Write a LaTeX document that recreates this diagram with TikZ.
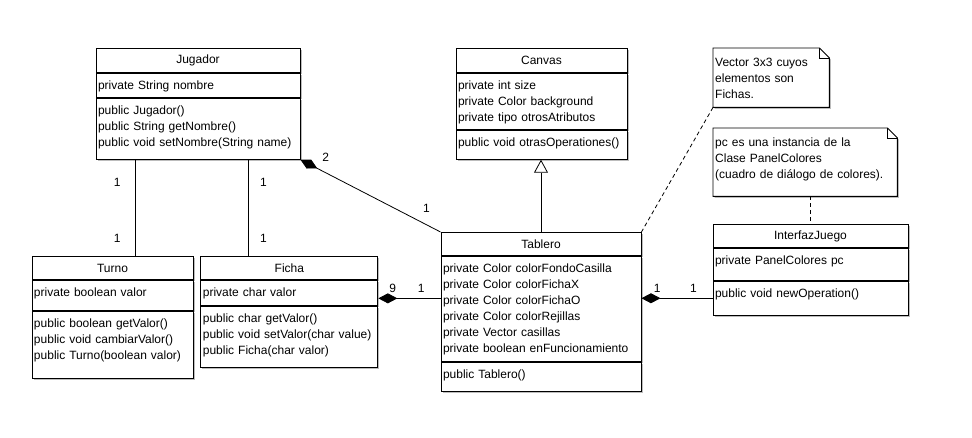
\documentclass[tikz,border=0pt]{standalone}
\usepackage{fontspec}
\setmainfont{Liberation Sans}
\usepackage{tikz}
\usetikzlibrary{arrows.meta,shapes,positioning,shadows,backgrounds}
\definecolor{umlline}{RGB}{0,0,0}
\definecolor{umlshadow}{RGB}{160,160,160}
\tikzstyle{umltext} = [font=\fontsize{12}{16}\selectfont]
\tikzstyle{umlshade} = [drop shadow={shadow xshift=1.5pt, shadow yshift=-1.5pt, fill=umlshadow, opacity=0.7}]
\tikzstyle{classhead} = [umltext, rectangle, draw=umlline, fill=white, line width=0.9pt, anchor=north, inner sep=0pt, umlshade]
\tikzstyle{classpart} = [umltext, rectangle, draw=umlline, fill=white, line width=0.9pt, align=left, inner xsep=2pt, inner ysep=0pt, text height=16pt, umlshade]
\tikzstyle{umlnote} = [umltext, anchor=north west, align=left, inner xsep=2pt, inner ysep=0pt, text height=18pt]
\tikzstyle{notebox} = [draw=umlline, fill=white, line width=0.9pt, umlshade]
\tikzstyle{mult} = [umltext, inner sep=1pt]
\tikzstyle{assoc} = [line width=0.8pt, draw=umlline]
\tikzstyle{compos} = [assoc, {Diamond[length=19pt,width=10pt]}-]
\tikzstyle{inherit} = [assoc, -{Triangle[open,length=13pt,width=14pt]}]
\tikzstyle{notelink} = [assoc, dash pattern=on 4pt off 3pt]

\begin{document}
\begin{tikzpicture}[x=1pt, y=1pt]
\useasboundingbox (0,0) rectangle (972,-437);

% Classes
\node (jugador) [classhead, minimum width=204pt, minimum height=24pt] at (198,-48) {Jugador};
\node (jugadorattr) [classpart, text width=200pt, text depth=8pt, below=0pt of jugador] {private String nombre};
\node (jugadorops) [classpart, text width=200pt, text depth=45pt, below=0pt of jugadorattr] {public Jugador()\\public String getNombre()\\public void setNombre(String name)};

\node (canvas) [classhead, minimum width=171pt, minimum height=24pt] at (541.5,-48) {Canvas};
\node (canvasattr) [classpart, text width=167pt, text depth=40pt, below=0pt of canvas] {private int size\\private Color background\\private tipo otrosAtributos};
\node (canvasops) [classpart, text width=167pt, text depth=13pt, below=0pt of canvasattr] {public void otrasOperationes()};

\node (turno) [classhead, minimum width=161pt, minimum height=23pt] at (112.5,-256) {Turno};
\node (turnoattr) [classpart, text width=157pt, text depth=14pt, below=0pt of turno] {private boolean valor};
\node (turnoops) [classpart, text width=157pt, text depth=51pt, below=0pt of turnoattr] {public boolean getValor()\\public void cambiarValor()\\public Turno(boolean valor)};

\node (ficha) [classhead, minimum width=177pt, minimum height=23pt, right=7pt of turno] {Ficha};
\node (fichaattr) [classpart, text width=173pt, text depth=9pt, below=0pt of ficha] {private char valor};
\node (fichaops) [classpart, text width=173pt, text depth=45pt, below=0pt of fichaattr] {public char getValor()\\public void setValor(char value)\\public Ficha(char valor)};

\node (tablero) [classhead, minimum width=200pt, minimum height=23pt] at (541,-232) {Tablero};
\node (tableroattr) [classpart, text width=196pt, text depth=89pt, below=0pt of tablero] {private Color colorFondoCasilla\\private Color colorFichaX\\private Color colorFichaO\\private Color colorRejillas\\private Vector casillas\\private boolean enFuncionamiento};
\node (tableroops) [classpart, text width=196pt, text depth=13pt, below=0pt of tableroattr] {public Tablero()};

\node (interfaz) [classhead, minimum width=195pt, minimum height=23pt] at (810.5,-224) {InterfazJuego};
\node (interfazattr) [classpart, text width=191pt, text depth=16pt, below=0pt of interfaz] {private PanelColores pc};
\node (interfazops) [classpart, text width=191pt, text depth=18pt, below=0pt of interfazattr] {public void newOperation()};

% Notes
\node (vectornote) [umlnote, text width=112pt, text depth=41pt] at (713,-48) {Vector 3x3 cuyos\\elementos son\\Fichas.};
\node (panelnote) [umlnote, text width=180pt, text depth=50pt] at (713,-128) {pc es una instancia de la\\Clase PanelColores\\(cuadro de diálogo de colores).};
\begin{scope}[on background layer]
\draw[notebox] (vectornote.north west) -- ([xshift=-10pt]vectornote.north east) -- ([yshift=-10pt]vectornote.north east) -- (vectornote.south east) -- (vectornote.south west) -- cycle;
\draw[notebox] (panelnote.north west) -- ([xshift=-10pt]panelnote.north east) -- ([yshift=-10pt]panelnote.north east) -- (panelnote.south east) -- (panelnote.south west) -- cycle;
\end{scope}
\draw[assoc] ([xshift=-10pt]vectornote.north east) |- ([yshift=-10pt]vectornote.north east);
\draw[assoc] ([xshift=-10pt]panelnote.north east) |- ([yshift=-10pt]panelnote.north east);

% Associations
\coordinate (turnolink) at ([xshift=40pt]jugadorops.south west);
\coordinate (fichalink) at ([xshift=-52pt]jugadorops.south east);
\coordinate (fichatab) at ([yshift=-5.5pt]fichaattr.east);
\draw[assoc] (turnolink) -- (turnolink |- turno.north)
  node (mjt1) [mult, pos=0.24, left=13.6pt] {1}
  node (mjt2) [mult, pos=0.82, left=13.6pt] {1};
\draw[assoc] (fichalink) -- (fichalink |- ficha.north)
  node (mjf1) [mult, pos=0.24, right=10.3pt] {1}
  node (mjf2) [mult, pos=0.82, right=10.3pt] {1};
\draw[compos] (jugadorops.south east) -- (tablero.north west)
  node (mjb1) [mult, pos=0.18, above=10pt] {2}
  node (mjb2) [mult, pos=0.9, above=11pt] {1};
\draw[compos] (fichatab) -- (fichatab -| tableroattr.west)
  node (mfb1) [mult, pos=0.23, above=4.6pt] {9}
  node (mfb2) [mult, pos=0.69, above=4.6pt] {1};
\draw[compos] (tableroattr.east |- interfazops.west) -- (interfazops.west)
  node (mbi1) [mult, pos=0.22, above=4.6pt] {1}
  node (mbi2) [mult, pos=0.73, above=4.6pt] {1};

% Inheritance and note links
\draw[inherit] (tablero.north) -- (tablero.north |- canvasops.south);
\draw[notelink] (vectornote.south west) -- (tablero.north east);
\draw[notelink] (interfaz.north |- panelnote.south) -- (interfaz.north);
\end{tikzpicture}
\end{document}
